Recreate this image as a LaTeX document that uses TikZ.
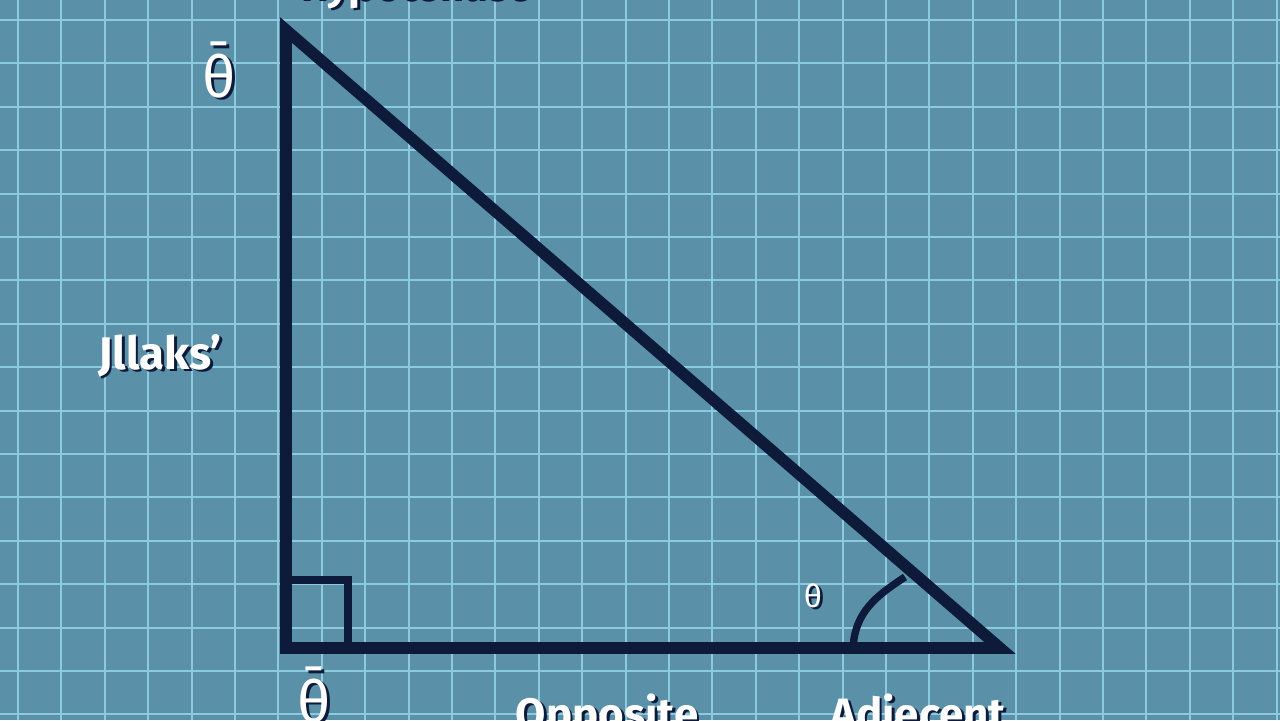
\documentclass[tikz,border=0pt]{standalone}
\usepackage{fontspec}
\setmainfont{Fira Sans}
\usepackage{tikz}
\definecolor{board}{HTML}{5A91A8}
\definecolor{gridline}{HTML}{8CCAE0}
\definecolor{ink}{HTML}{0E1A3A}
\tikzset{side/.style={draw=ink, line width=6.6pt, line join=miter}}
\tikzset{lbl/.style={text=white, inner sep=0pt, anchor=base}}
\newcommand{\shadowed}[1]{\makebox[0pt][l]{\hspace{1.6pt}\raisebox{-1.6pt}{\color{ink}#1}}#1}

\begin{document}
\begin{tikzpicture}[x=0.02cm, y=-0.02cm]

\fill[board] (0,0) rectangle (1280,720);
\clip (0,0) rectangle (1280,720);
\foreach \i in {0,...,29} \draw[gridline, line width=1.1pt] (18+43.4*\i,0) -- (18+43.4*\i,720);
\foreach \j in {0,...,16} \draw[gridline, line width=1.1pt] (0,20+43.4*\j) -- (1280,20+43.4*\j);

\coordinate (top) at (286,30);
\coordinate (corner) at (286,648);
\coordinate (tip) at (1000,648);
\draw[side] (top) -- (corner) -- (tip) -- cycle;
\draw[side, line width=5pt] (286,580) -| (348,648);
\draw[side, line width=4.2pt] (853,648) .. controls (855,612) and (876,596) .. (905,577);

\node[lbl, font=\bfseries\fontsize{24}{24}\selectfont] (hyp) at (414,-1) {\shadowed{Hypotenuse}};
\node[lbl, font=\fontsize{33}{33}\selectfont] (bartop) at (219,97) {\shadowed{θ̄}};
\node[lbl, font=\fontsize{33}{33}\selectfont] (barbottom) at (314,722) {\shadowed{θ̄}};
\node[lbl, font=\bfseries\fontsize{26}{26}\selectfont] (side) at (160,369) {\shadowed{Jllaks'}};
\node[lbl, font=\fontsize{18}{18}\selectfont] (theta) at (813,607) {\shadowed{θ}};
\node[lbl, font=\bfseries\fontsize{25}{25}\selectfont] (opp) at (607,729) {\shadowed{Opposite}};
\node[lbl, font=\bfseries\fontsize{25}{25}\selectfont] (adj) at (918,729) {\shadowed{Adjecent}};

\end{tikzpicture}
\end{document}
